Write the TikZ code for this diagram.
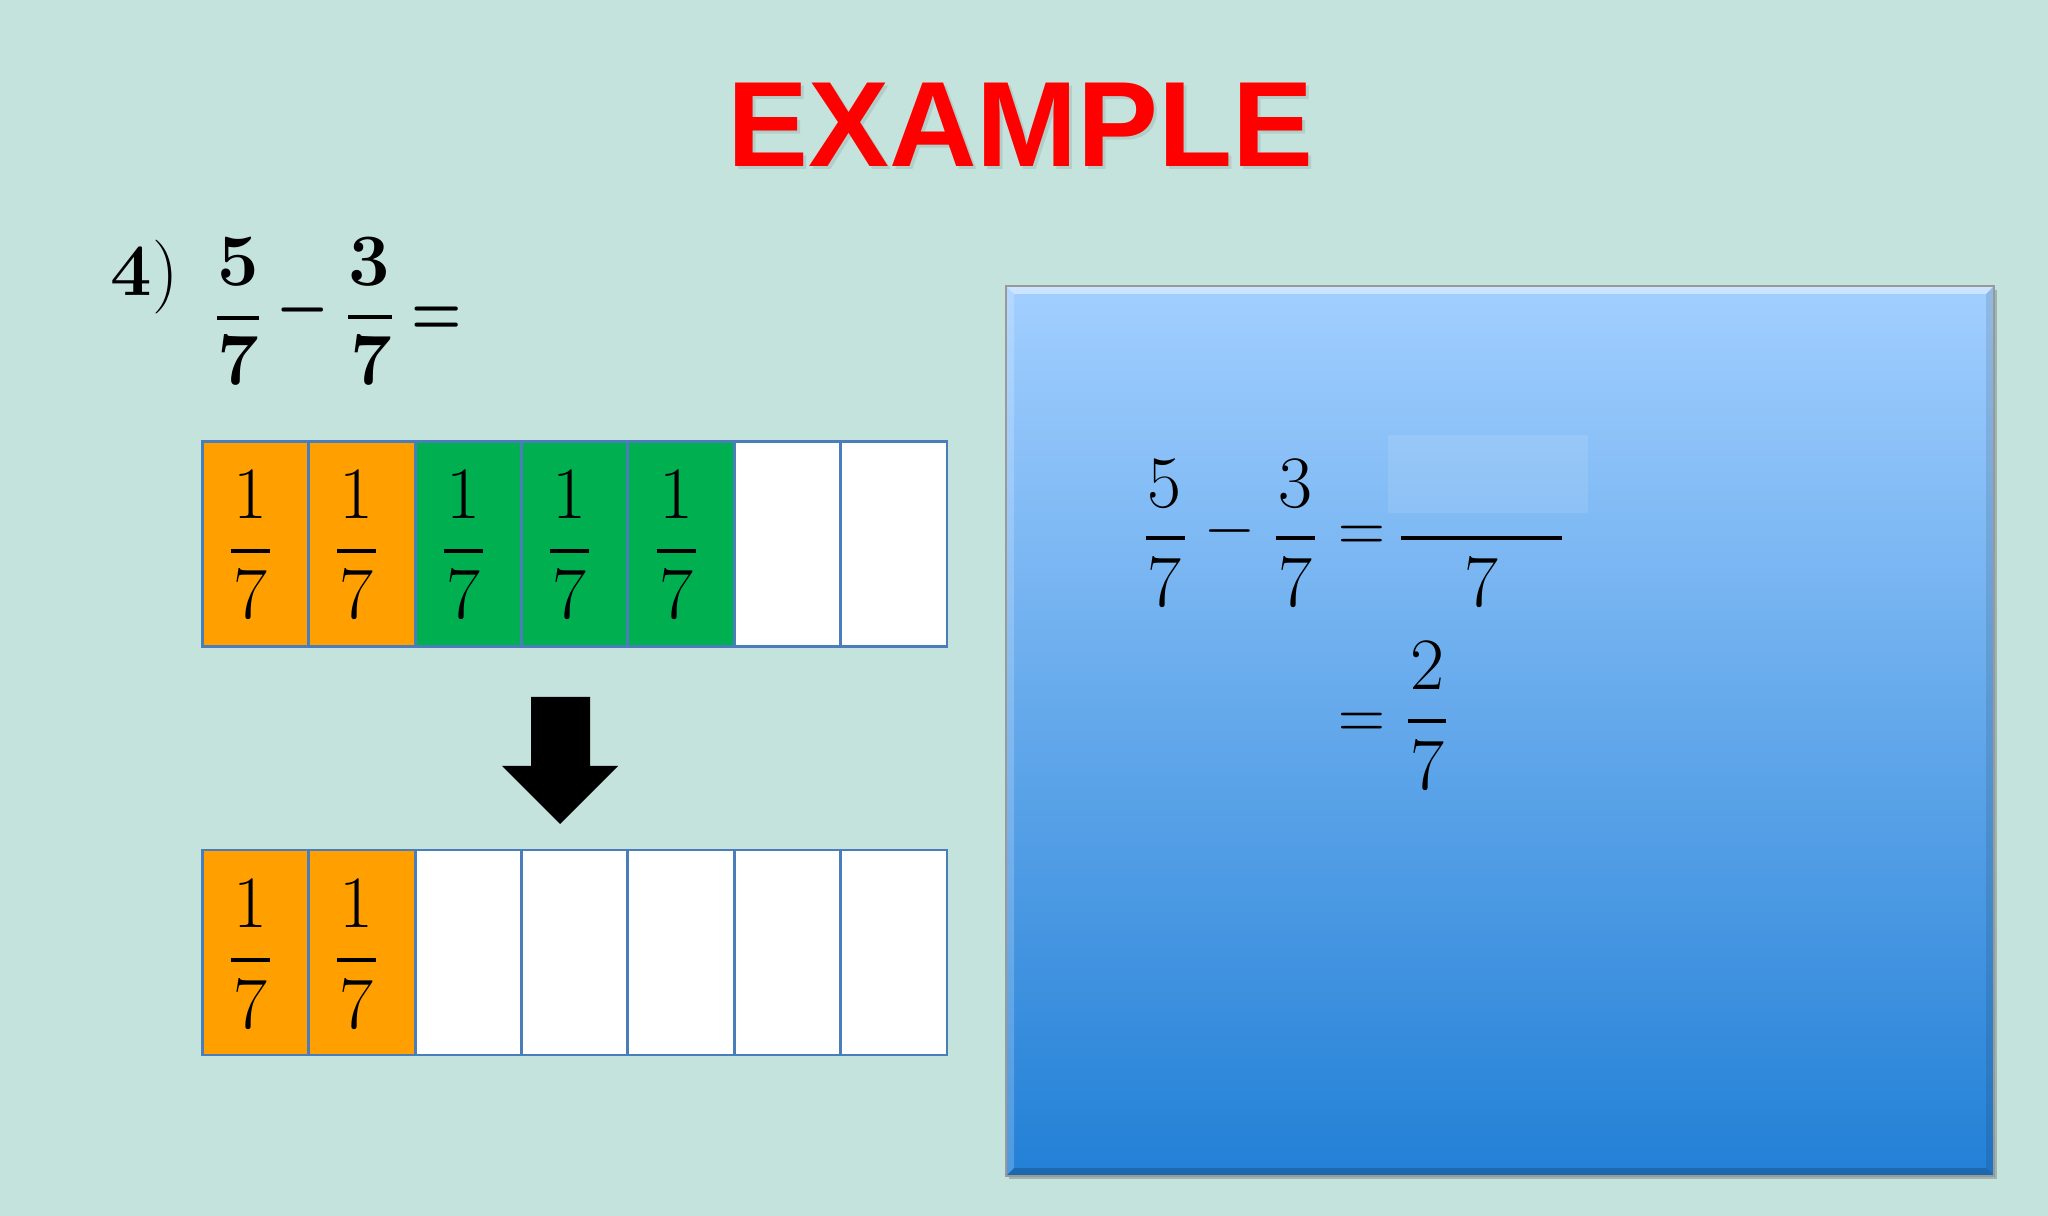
\documentclass[tikz,border=0pt]{standalone}
\usepackage{fontspec}
\usepackage{graphicx}
\newfontfamily\titlefont{Liberation Sans}
\definecolor{bg}{RGB}{196,227,221}
\definecolor{orangeT}{RGB}{255,160,0}
\definecolor{greenT}{RGB}{0,176,80}
\definecolor{cellborder}{RGB}{74,126,187}
\definecolor{boxtop}{RGB}{162,207,255}
\definecolor{boxmid}{RGB}{112,168,236}
\definecolor{boxbot}{RGB}{34,128,214}
\tikzset{
  num/.style={anchor=base, inner sep=0pt, font=\fontsize{21}{25}\selectfont},
  bnum/.style={anchor=base, inner sep=0pt, font=\fontsize{21}{25}\selectfont\bfseries},
  fbar/.style={line width=1.1pt},
  bbar/.style={line width=1.4pt},
  cell/.style={draw=cellborder, line width=0.8pt},
}
\begin{document}
\begin{tikzpicture}[x=0.01cm,y=-0.01cm]
\useasboundingbox (0,0) rectangle (2048,1216);
\fill[bg] (0,0) rectangle (2048,1216);

% title
\node[anchor=base, inner sep=0pt, font=\titlefont\bfseries\fontsize{34.5}{40}\selectfont, text=black, opacity=0.09] (titleshadow) at (1023.5,170) {EXAMPLE};
\node[anchor=base, inner sep=0pt, font=\titlefont\bfseries\fontsize{34.5}{40}\selectfont, text=red] (title) at (1020.5,167) {EXAMPLE};

% question
\node[anchor=base west, inner sep=0pt, font=\fontsize{21}{25}\selectfont] (qnum) at (110,296) {\textbf{4})};
\node[bnum] (qa) at (238.5,286) {5};
\draw[bbar] (217,318) -- (259,318);
\node[bnum] (qb) at (238.5,385) {7};
\node[bnum] (qm) at (302.5,328.5) {\scalebox{0.75}[1]{−}};
\node[bnum] (qc) at (369,286) {3};
\draw[bbar] (348,317) -- (392,317);
\node[bnum] (qd) at (371,385) {7};
\node[bnum] (qe) at (437,335.5) {\scalebox{0.78}[1]{=}};

% top bar
\foreach \i/\c in {0/orangeT,1/orangeT,2/greenT,3/greenT,4/greenT,5/white,6/white}
  \path[cell, fill=\c] ({202.4+\i*106.36},441.5) rectangle ++(106.36,205);
\foreach \i in {0,...,4}{
  \node[num] (tn\i) at ({202.4+(\i+0.5)*106.36-5},519) {1};
  \draw[fbar] ({202.4+(\i+0.5)*106.36-5-19.5},551) -- ++(39,0);
  \node[num] (td\i) at ({202.4+(\i+0.5)*106.36-5},619) {7};
}

% arrow
\fill[black] (531,697) -- (590,697) -- (590,766) -- (618,766) -- (560,824) -- (502,766) -- (531,766) -- cycle;

% bottom bar
\foreach \i/\c in {0/orangeT,1/orangeT,2/white,3/white,4/white,5/white,6/white}
  \path[cell, fill=\c] ({202.4+\i*106.36},850) rectangle ++(106.36,205);
\foreach \i in {0,1}{
  \node[num] (bn\i) at ({202.4+(\i+0.5)*106.36-5},928) {1};
  \draw[fbar] ({202.4+(\i+0.5)*106.36-5-19.5},960) -- ++(39,0);
  \node[num] (bd\i) at ({202.4+(\i+0.5)*106.36-5},1028) {7};
}

% blue box
\fill[black, opacity=0.2] (1009,290) rectangle (1997,1179);
\shade[top color=boxtop, middle color=boxmid, bottom color=boxbot] (1006,286) rectangle (1994,1176);
\fill[white, opacity=0.45] (1006,286) -- (1994,286) -- (1986,294) -- (1014,294) -- cycle;
\fill[white, opacity=0.2] (1006,286) -- (1014,294) -- (1014,1168) -- (1006,1176) -- cycle;
\fill[black, opacity=0.1] (1994,286) -- (1994,1176) -- (1986,1168) -- (1986,294) -- cycle;
\fill[black, opacity=0.18] (1006,1176) -- (1994,1176) -- (1986,1168) -- (1014,1168) -- cycle;
\draw[black!40, line width=0.4pt] (1006,286) rectangle (1994,1176);

% equation in box
\node[num] (ea) at (1164.4,508) {5};
\draw[fbar] (1145.5,538) -- (1184.6,538);
\node[num] (eb) at (1164.4,607) {7};
\node[num] (em) at (1229.6,550) {\scalebox{0.88}[1]{−}};
\node[num] (ec) at (1295.6,508) {3};
\draw[fbar] (1276,538) -- (1315,538);
\node[num] (ed) at (1295.6,607) {7};
\node[num] (ee) at (1361.6,552.5) {\scalebox{0.88}[1]{=}};
\fill[white, opacity=0.1] (1388,435) rectangle (1588,513);
\draw[fbar] (1401,538) -- (1562,538);
\node[num] (ef) at (1481,607) {7};
\node[num] (eg) at (1361.6,740) {\scalebox{0.88}[1]{=}};
\node[num] (eh) at (1427,689.6) {2};
\draw[fbar] (1408,721) -- (1446,721);
\node[num] (ei) at (1427,790) {7};
\end{tikzpicture}
\end{document}
